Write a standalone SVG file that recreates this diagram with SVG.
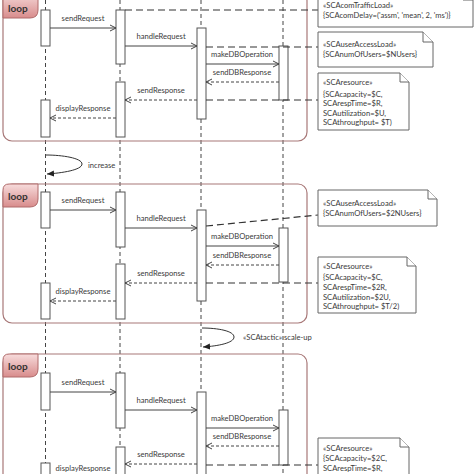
<svg xmlns="http://www.w3.org/2000/svg" width="474" height="474" viewBox="0 0 474 474">
<style>
text{font-family:Lato,"Liberation Sans",sans-serif;font-size:7.6px;fill:#3a3a3a}
.lbl{text-anchor:middle}
.loopt{font-size:10px;font-weight:bold;fill:#333}
.life{stroke:#444;stroke-width:1;stroke-dasharray:4 3;fill:none}
.frame{fill:none;stroke:#a87878;stroke-width:1.2}
.tab{fill:url(#tg);stroke:#b06a6a;stroke-width:1}
.act{fill:#fff;stroke:#555;stroke-width:1}
.msg{stroke:#444;stroke-width:1;fill:none;marker-end:url(#open)}
.ret{stroke:#444;stroke-width:1;fill:none;stroke-dasharray:3 2;marker-end:url(#open)}
.conn{stroke:#333;stroke-width:1.2;fill:none;stroke-dasharray:7 4}
.note{fill:#fff;stroke:#666;stroke-width:1}
.self{stroke:#333;stroke-width:1;fill:none;marker-end:url(#fill)}
</style>
<defs>
<linearGradient id="tg" x1="0" y1="0" x2="0" y2="1">
<stop offset="0" stop-color="#f7dcdc"/>
<stop offset="1" stop-color="#d88c8c"/>
</linearGradient>
<marker id="open" markerWidth="8" markerHeight="8" refX="7" refY="4" orient="auto" markerUnits="userSpaceOnUse">
<path d="M1,1 L7,4 L1,7" fill="none" stroke="#444" stroke-width="1"/>
</marker>
<marker id="fill" markerWidth="8" markerHeight="8" refX="7" refY="4" orient="auto" markerUnits="userSpaceOnUse">
<path d="M0,1 L7,4 L0,7 Z" fill="#222"/>
</marker>
</defs>

<g id="lifelines">
<line class="life" x1="45.5" y1="0" x2="45.5" y2="474"/>
<line class="life" x1="120" y1="0" x2="120" y2="474"/>
<line class="life" x1="201" y1="0" x2="201" y2="474"/>
<line class="life" x1="283" y1="0" x2="283" y2="474"/>
</g>

<g id="frames">
<rect class="frame" x="3" y="-8" width="304" height="149" rx="9"/>
<path class="tab" d="M3,-8 H38 V10 Q38,18 30,18 H3 Z"/>
<text class="loopt" x="8" y="12">loop</text>
<rect class="frame" x="3" y="184" width="304" height="139" rx="9"/>
<path class="tab" d="M3,190 Q3,184 9,184 H38 V199 Q38,207 30,207 H3 Z"/>
<text class="loopt" x="8" y="200">loop</text>
<rect class="frame" x="3" y="354" width="304" height="140" rx="9"/>
<path class="tab" d="M3,360 Q3,354 9,354 H38 V369 Q38,377 30,377 H3 Z"/>
<text class="loopt" x="8" y="370">loop</text>
</g>

<g id="activations">
<rect class="act" x="41" y="10" width="9" height="36"/>
<rect class="act" x="116" y="10" width="9" height="54"/>
<rect class="act" x="116" y="82" width="9" height="55"/>
<rect class="act" x="41" y="100" width="9" height="37"/>
<rect class="act" x="197" y="28" width="9" height="91"/>
<rect class="act" x="279" y="46" width="9" height="54"/>

<rect class="act" x="41" y="192" width="9" height="36"/>
<rect class="act" x="116" y="192" width="9" height="55"/>
<rect class="act" x="116" y="264" width="9" height="55"/>
<rect class="act" x="41" y="283" width="9" height="36"/>
<rect class="act" x="197" y="210" width="9" height="91"/>
<rect class="act" x="279" y="228" width="9" height="54"/>

<rect class="act" x="41" y="373" width="9" height="37"/>
<rect class="act" x="116" y="373" width="9" height="55"/>
<rect class="act" x="116" y="447" width="9" height="40"/>
<rect class="act" x="41" y="463" width="9" height="20"/>
<rect class="act" x="197" y="392" width="9" height="95"/>
<rect class="act" x="279" y="410" width="9" height="55"/>
</g>

<g id="connectors">
<line class="msg" x1="50" y1="28" x2="116" y2="28"/>
<line class="msg" x1="125" y1="46" x2="197" y2="46"/>
<line class="msg" x1="206" y1="64" x2="279" y2="64"/>
<line class="ret" x1="279" y1="82" x2="206" y2="82"/>
<line class="ret" x1="197" y1="100" x2="125" y2="100"/>
<line class="ret" x1="116" y1="118" x2="50" y2="118"/>
<line class="conn" x1="125" y1="10" x2="318" y2="10"/>
<line class="conn" x1="206" y1="47" x2="318" y2="47"/>
<line class="conn" x1="206" y1="100" x2="318" y2="100"/>
<path class="self" d="M46,155 C62,155 82,158 82,164 C82,170 62,173 47,174"/>

<line class="msg" x1="50" y1="210" x2="116" y2="210"/>
<line class="msg" x1="125" y1="228" x2="197" y2="228"/>
<line class="msg" x1="206" y1="246" x2="279" y2="246"/>
<line class="ret" x1="279" y1="265" x2="206" y2="265"/>
<line class="ret" x1="197" y1="283" x2="125" y2="283"/>
<line class="ret" x1="116" y1="301" x2="50" y2="301"/>
<line class="conn" x1="206" y1="226" x2="318" y2="215"/>
<line class="conn" x1="206" y1="283" x2="318" y2="283"/>
<path class="self" d="M202,328 C218,328 234,331 234,337 C234,343 218,346 203,347"/>

<line class="msg" x1="50" y1="392" x2="116" y2="392"/>
<line class="msg" x1="125" y1="410" x2="197" y2="410"/>
<line class="msg" x1="206" y1="428" x2="279" y2="428"/>
<line class="ret" x1="279" y1="446" x2="206" y2="446"/>
<line class="ret" x1="197" y1="464" x2="125" y2="464"/>
<line class="ret" x1="116" y1="482" x2="50" y2="482"/>
<line class="conn" x1="206" y1="465" x2="318" y2="465"/>
</g>

<g id="labels">
<text class="lbl" x="83" y="21">sendRequest</text>
<text class="lbl" x="161" y="39">handleRequest</text>
<text class="lbl" x="242" y="57">makeDBOperation</text>
<text class="lbl" x="242" y="75">sendDBResponse</text>
<text class="lbl" x="161" y="93">sendResponse</text>
<text class="lbl" x="83" y="111">displayResponse</text>
<text x="88" y="168">increase</text>

<text class="lbl" x="83" y="203">sendRequest</text>
<text class="lbl" x="161" y="221">handleRequest</text>
<text class="lbl" x="242" y="239">makeDBOperation</text>
<text class="lbl" x="242" y="258">sendDBResponse</text>
<text class="lbl" x="161" y="276">sendResponse</text>
<text class="lbl" x="83" y="294">displayResponse</text>
<text x="243" y="340">«SCAtactic» scale-up</text>

<text class="lbl" x="83" y="385">sendRequest</text>
<text class="lbl" x="161" y="403">handleRequest</text>
<text class="lbl" x="242" y="421">makeDBOperation</text>
<text class="lbl" x="242" y="439">sendDBResponse</text>
<text class="lbl" x="161" y="457">sendResponse</text>
<text class="lbl" x="83" y="471">displayResponse</text>
</g>

<g id="note-trafficload">
<path class="note" d="M318,-10 H463 L473,0 V27 H318 Z"/>
<path class="note" d="M463,-10 V0 H473" fill="none"/>
<text x="323" y="8">«SCAcomTrafficLoad»</text>
<text x="323" y="18">{SCAcomDelay=('assm', 'mean', 2, 'ms')}</text>
</g>
<g id="note-useraccess1">
<path class="note" d="M318,32 H423 L433,42 V67 H318 Z"/>
<path class="note" d="M423,32 V42 H433" fill="none"/>
<text x="323" y="47">«SCAuserAccessLoad»</text>
<text x="323" y="57">{SCAnumOfUsers=$NUsers}</text>
</g>
<g id="note-resource1">
<path class="note" d="M318,73 H400 L409,82 V130 H318 Z"/>
<path class="note" d="M400,73 V82 H409" fill="none"/>
<text x="323" y="85">«SCAresource»</text>
<text x="323" y="97">{SCAcapacity=$C,</text>
<text x="323" y="106">SCArespTime=$R,</text>
<text x="323" y="116">SCAutilization=$U,</text>
<text x="323" y="125">SCAthroughput= $T)</text>
</g>
<g id="note-useraccess2">
<path class="note" d="M318,190 H428 L437,199 V226 H318 Z"/>
<path class="note" d="M428,190 V199 H437" fill="none"/>
<text x="323" y="206">«SCAuserAccessLoad»</text>
<text x="323" y="216">{SCAnumOfUsers=$2NUsers}</text>
</g>
<g id="note-resource2">
<path class="note" d="M318,257 H407 L416,266 V313 H318 Z"/>
<path class="note" d="M407,257 V266 H416" fill="none"/>
<text x="323" y="269">«SCAresource»</text>
<text x="323" y="280">{SCAcapacity=$C,</text>
<text x="323" y="290">SCArespTime=$2R,</text>
<text x="323" y="300">SCAutilization=$2U,</text>
<text x="323" y="309">SCAthroughput= $T/2)</text>
</g>
<g id="note-resource3">
<path class="note" d="M318,438 H400 L409,447 V490 H318 Z"/>
<path class="note" d="M400,438 V447 H409" fill="none"/>
<text x="323" y="451">«SCAresource»</text>
<text x="323" y="461">{SCAcapacity=$2C,</text>
<text x="323" y="471">SCArespTime=$R,</text>
</g>
</svg>
